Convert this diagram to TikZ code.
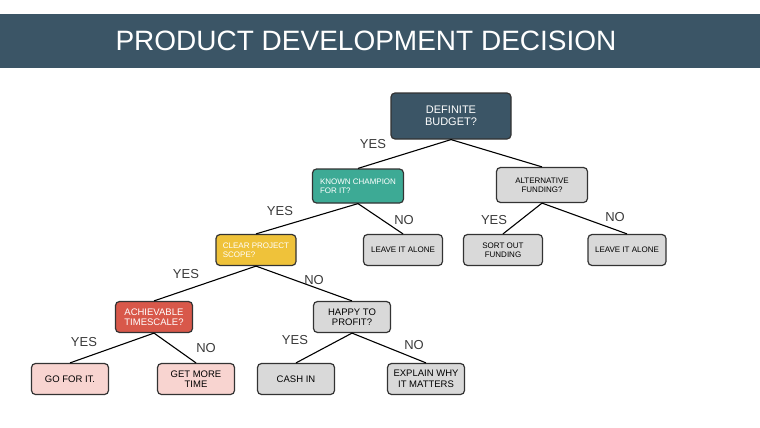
\documentclass[tikz,border=0pt]{standalone}
\usepackage{fontspec}
\setmainfont{Liberation Sans}
\usetikzlibrary{positioning}
\definecolor{slate}{HTML}{3B5566}
\definecolor{tealbox}{HTML}{3DAA95}
\definecolor{goldbox}{HTML}{EFC23A}
\definecolor{redbox}{HTML}{D8584A}
\definecolor{pinkbox}{HTML}{F8D4D0}
\definecolor{greybox}{HTML}{D9D9D9}
\definecolor{labelgrey}{HTML}{3A3A3A}
\begin{document}
\begin{tikzpicture}[
			x=1pt, y=-1pt,
			decision/.style = {rectangle, draw=black!80, line width=1.2pt, rounded corners=4pt,
					minimum width=77pt, minimum height=31pt, align=center, font=\fontsize{8}{9}\selectfont},
			outcome/.style = {decision},
			answer/.style = {text=labelgrey, font=\fontsize{13}{14}\selectfont},
			line/.style = {draw, black, line width=1.1pt},
		]
		\useasboundingbox (0,0) rectangle (760,428);
		% Title bar
		\fill [slate] (0,14) rectangle (760,68);
		\node [text=white, font=\fontsize{28}{30}\selectfont] (title) at (366,41) {PRODUCT DEVELOPMENT DECISION};

		% Decision nodes
		\node [decision, fill=slate, text=white, minimum width=120pt, minimum height=46pt,
			font=\fontsize{11}{12}\selectfont] (budget) at (451,116) {DEFINITE\\BUDGET?};
		\node [decision, fill=tealbox, text=white, minimum width=91pt, minimum height=34pt, align=left] (champion) at (358,186) {KNOWN CHAMPION\\FOR IT?};
		\node [decision, fill=greybox, minimum width=91pt, minimum height=35pt] (funding) at (542,185) {ALTERNATIVE\\FUNDING?};
		\node [decision, fill=goldbox, text=white, minimum width=80pt, align=left] (scope) at (256,250) {CLEAR PROJECT\\SCOPE?};
		\node [decision, fill=redbox, text=white, font=\fontsize{9.5}{10.5}\selectfont, align=left] (timescale) at (154,317) {ACHIEVABLE\\TIMESCALE?};
		\node [decision, fill=greybox, font=\fontsize{9.5}{10.5}\selectfont] (profit) at (352,317) {HAPPY TO\\PROFIT?};

		% Outcome nodes
		\node [outcome, fill=greybox, minimum width=79pt] (alone) at (403,250) {LEAVE IT ALONE};
		\node [outcome, fill=greybox, minimum width=79pt] (sortout) at (503,250) {SORT OUT\\FUNDING};
		\node [outcome, fill=greybox, minimum width=78pt] (aloneb) at (627,250) {LEAVE IT ALONE};
		\node [outcome, fill=pinkbox, font=\fontsize{9.5}{10.5}\selectfont] (gofor) at (70,379) {GO FOR IT.};
		\node [outcome, fill=pinkbox, font=\fontsize{9.5}{10.5}\selectfont] (moretime) at (196,379) {GET MORE\\TIME};
		\node [outcome, fill=greybox, font=\fontsize{9.5}{10.5}\selectfont] (cashin) at (296,379) {CASH IN};
		\node [outcome, fill=greybox, font=\fontsize{9.5}{10.5}\selectfont] (explain) at (426,379) {EXPLAIN WHY\\IT MATTERS};

		% Connectors
		\path [line] (budget.south) -- (champion.north);
		\path [line] (budget.south) -- (funding.north);
		\path [line] (champion.south) -- (scope.north);
		\path [line] (champion.south) -- (alone.north);
		\path [line] (funding.south) -- (sortout.north);
		\path [line] (funding.south) -- (aloneb.north);
		\path [line] (scope.south) -- (timescale.north);
		\path [line] (scope.south) -- (profit.north);
		\path [line] (timescale.south) -- (gofor.north);
		\path [line] (timescale.south) -- (moretime.north);
		\path [line] (profit.south) -- (cashin.north);
		\path [line] (profit.south) -- (explain.north);

		% Answers
		\node [answer] (y1) at (373,144) {YES};
		\node [answer] (y2) at (280,211) {YES};
		\node [answer] (n2) at (404,220) {NO};
		\node [answer] (y3) at (494,220) {YES};
		\node [answer] (n3) at (615,217) {NO};
		\node [answer] (y4) at (186,274) {YES};
		\node [answer] (n4) at (314,280) {NO};
		\node [answer] (y5) at (84,342) {YES};
		\node [answer] (n5) at (206,348) {NO};
		\node [answer] (y6) at (295,340) {YES};
		\node [answer] (n6) at (414,345) {NO};
	\end{tikzpicture}
\end{document}
